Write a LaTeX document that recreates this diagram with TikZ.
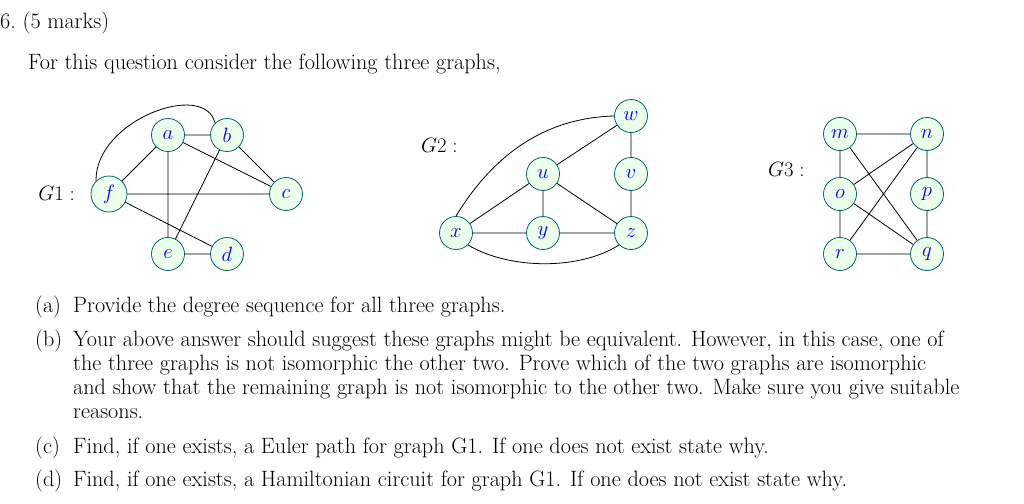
\documentclass[tikz,border=0pt]{standalone}
\begin{document}
\begin{tikzpicture}[x=1pt,y=-1pt,
  v/.style={circle,draw=teal!80!black,thick,fill=green!8,minimum size=33pt,inner sep=0pt,font=\fontsize{21}{21}\selectfont,text=blue},
  t/.style={anchor=base west,inner sep=0pt,font=\fontsize{22.2}{24}\selectfont},
  e/.style={thick}]
\useasboundingbox (0,0) rectangle (1024,503);
\node[t] (h) at (0,29) {6.\ (5 marks)};
\node[t] (i) at (28,69) {For this question consider the following three graphs,};
% G1
\node[v,minimum size=36pt] (f) at (109,194) {$f$};
\node[v] (a) at (168,135) {$a$};
\node[v] (b) at (227,135) {$b$};
\node[v] (c) at (286,194) {$c$};
\node[v] (ee) at (168,254) {$e$};
\node[v] (d) at (227,254) {$d$};
\node[t,anchor=base east] (g1) at (75,200) {$G1:$};
\draw[e] (a)--(b) (a)--(c) (b)--(c) (a)--(f) (f)--(c) (a)--(ee) (b)--(ee) (f)--(d) (ee)--(d);
\draw[e] (f.north west) .. controls (95,120) and (205,80) .. (b.north west);
% G2
\node[v] (w) at (631,116) {$w$};
\node[v] (u) at (543,174) {$u$};
\node[v] (vv) at (631,174) {$v$};
\node[v] (x) at (456,233) {$x$};
\node[v] (y) at (543,233) {$y$};
\node[v] (z) at (631,233) {$z$};
\node[t] (g2) at (421,152) {$G2:$};
\draw[e] (w)--(u) (w)--(vv) (vv)--(z) (u)--(x) (u)--(y) (u)--(z) (x)--(y) (y)--(z);
\draw[e] (x.north) .. controls (490,160) and (540,118) .. (w.west);
\draw[e] (x.south east) .. controls (510,270) and (580,270) .. (z.south west);
% G3
\node[v] (m) at (840,134) {$m$};
\node[v] (n) at (927,134) {$n$};
\node[v] (o) at (840,194) {$o$};
\node[v] (p) at (927,194) {$p$};
\node[v] (r) at (840,254) {$r$};
\node[v] (q) at (927,254) {$q$};
\node[t] (g3) at (768,176) {$G3:$};
\draw[e] (m)--(n) (m)--(o) (o)--(r) (r)--(q) (n)--(p) (p)--(q) (m)--(q) (o)--(n) (o)--(q) (r)--(n);
% questions
\node[t] (la) at (35,312) {(a)};
\node[t] (qa) at (73,312) {Provide the degree sequence for all three graphs.};
\node[t] (lb) at (35,346) {(b)};
\node[t] (qb1) at (73,346) {Your above answer should suggest these graphs might be equivalent. However, in this case, one of};
\node[t] (qb2) at (73,370) {the three graphs is not isomorphic the other two. Prove which of the two graphs are isomorphic};
\node[t] (qb3) at (73,394) {and show that the remaining graph is not isomorphic to the other two. Make sure you give suitable};
\node[t] (qb4) at (73,418) {reasons.};
\node[t] (lc) at (35,453) {(c)};
\node[t] (qc) at (73,453) {Find, if one exists, a Euler path for graph G1. If one does not exist state why.};
\node[t] (ld) at (35,486) {(d)};
\node[t] (qd) at (73,486) {Find, if one exists, a Hamiltonian circuit for graph G1. If one does not exist state why.};
\end{tikzpicture}
\end{document}
